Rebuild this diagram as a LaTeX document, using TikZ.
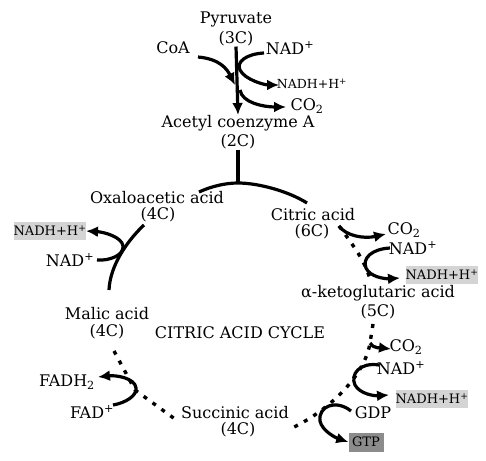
\documentclass[tikz,border=0pt]{standalone}
\usepackage{fontspec}
\setmainfont{DejaVu Serif}
\usetikzlibrary{arrows.meta,positioning}
\begin{document}
\begin{tikzpicture}[x=1pt,y=-1pt,
    lbl/.style={inner sep=0pt,font=\fontsize{16}{17}\selectfont},
    shade/.style={inner sep=0pt,minimum width=71pt,minimum height=18pt,fill=black!17,font=\fontsize{13}{14}\selectfont},
    flow/.style={line width=3.2pt,-{Latex[length=12pt,width=11pt]}},
    cycleline/.style={line width=3.2pt},
    gapline/.style={line width=3.4pt,dash pattern=on 4pt off 7pt}]
    \useasboundingbox (0,0) rectangle (486,460);
    \node[lbl] (pyr) at (236,19) {Pyruvate};
    \node[lbl] (pyrc) at (236,39) {(3C)};
    \node[lbl] (coa) at (173,48) {CoA};
    \node[lbl] (nad1) at (290,48) {NAD\textsuperscript{+}};
    \node[lbl,font=\fontsize{12.5}{13}\selectfont] (nadh1) at (312,84) {NADH+H\textsuperscript{+}};
    \node[lbl] (co2a) at (307,106) {CO\textsubscript{2}};
    \node[lbl] (acoa) at (238,123) {Acetyl coenzyme A};
    \node[lbl] (acoac) at (238,142) {(2C)};
    \node[lbl] (oxa) at (157,198) {Oxaloacetic acid};
    \node[lbl] (oxac) at (158,215) {(4C)};
    \node[lbl] (cit) at (313,215) {Citric acid};
    \node[lbl] (citc) at (312,232) {(6C)};
    \node[lbl] (co2b) at (404,230) {CO\textsubscript{2}};
    \node[lbl] (nad2) at (413,248) {NAD\textsuperscript{+}};
    \node[shade] (nadh2) at (442,275) {NADH+H\textsuperscript{+}};
    \node[lbl] (akg) at (378,293) {α-ketoglutaric acid};
    \node[lbl] (akgc) at (378,312) {(5C)};
    \node[shade] (nadh4) at (50,231) {NADH+H\textsuperscript{+}};
    \node[lbl] (nad4) at (70,260) {NAD\textsuperscript{+}};
    \node[lbl] (mal) at (107,314) {Malic acid};
    \node[lbl] (malc) at (107,332) {(4C)};
    \node[lbl] (cyc) at (240,333) {CITRIC ACID CYCLE};
    \node[lbl] (co2c) at (406,347) {CO\textsubscript{2}};
    \node[lbl] (nad3) at (401,368) {NAD\textsuperscript{+}};
    \node[shade] (nadh3) at (432,399) {NADH+H\textsuperscript{+}};
    \node[lbl] (fadh) at (67,382) {FADH\textsubscript{2}};
    \node[lbl] (fad) at (92,412) {FAD\textsuperscript{+}};
    \node[lbl] (succ) at (235,413) {Succinic acid};
    \node[lbl] (succc) at (238,430) {(4C)};
    \node[lbl] (gdp) at (373,413) {GDP};
    \node[shade,fill=black!45,minimum width=35pt,minimum height=19pt] (gtp) at (366,442) {GTP};
    \coordinate (jn) at (238,183);
    \coordinate (coaS) at (198,57);
    \coordinate (coaE) at (235,85);
    \coordinate (nadA) at (264,53);
    \coordinate (nadB) at (240,70);
    \coordinate (nadC) at (279,85);
    \coordinate (coS) at (240,90);
    \coordinate (coE) at (286,107);
    \coordinate (oxaE) at (199,192);
    \coordinate (citE) at (307,203);
    \coordinate (oxaS) at (144,225);
    \coordinate (malE) at (109,290);
    \coordinate (n4A) at (97,260);
    \coordinate (n4B) at (123,246);
    \coordinate (n4C) at (86,231);
    \coordinate (malS) at (114,351);
    \coordinate (fadJ) at (135,390);
    \coordinate (sucE) at (179,422);
    \coordinate (fadA) at (113,405);
    \coordinate (fadB) at (136,388);
    \coordinate (fadC) at (98,377);
    \coordinate (sucS) at (292,428);
    \coordinate (kgB) at (370,343);
    \coordinate (kgT) at (373,324);
    \coordinate (co2cE) at (391,349);
    \coordinate (n3A) at (379,365);
    \coordinate (n3B) at (355,385);
    \coordinate (n3C) at (389,395);
    \coordinate (gdA) at (351,411);
    \coordinate (gdB) at (320,421);
    \coordinate (co2bS) at (339,226);
    \coordinate (co2bE) at (386,234);
    \coordinate (akgT) at (371,283);
    \coordinate (n2A) at (390,248);
    \coordinate (n2B) at (366,268);
    \coordinate (n2C) at (400,278);
    \draw[flow] (pyrc.south) -- (acoa.north);
    \draw[flow] (coaS) .. controls +(22,2) and +(-8,-16) .. (coaE);
    \draw[flow] (nadA) .. controls +(-18,1) and +(-4,-8) .. (nadB) .. controls +(5,10) and +(-14,0) .. (nadC);
    \draw[flow] (coS) .. controls +(2,13) and +(-22,0) .. (coE);
    \draw[cycleline] (acoac.south) -- (jn);
    \draw[cycleline] (oxaE) .. controls (212,186) and (226,183) .. (jn) .. controls (258,183) and (288,191) .. (citE);
    \draw[cycleline] (oxaS) .. controls (128,240) and (110,265) .. (malE);
    \draw[flow] (n4A) .. controls +(13,1) and +(1,9) .. (n4B) .. controls +(-1,-9) and +(18,1) .. (n4C);
    \draw[gapline] (malS) -- (fadJ) -- (sucE);
    \draw[flow] (fadA) .. controls +(12,-2) and +(1,8) .. (fadB) .. controls +(-1,-10) and +(18,-2) .. (fadC);
    \draw[gapline] (kgT) -- (kgB) .. controls (365,375) and (330,410) .. (sucS);
    \draw[flow] (kgB) .. controls +(3,6) and +(-8,-1) .. (co2cE);
    \draw[flow] (n3A) .. controls +(-19,-3) and +(-5,-11) .. (n3B) .. controls +(5,9) and +(-15,1) .. (n3C);
    \draw[flow] (gdA) .. controls +(-15,-12) and +(-2,-15) .. (gdB) .. controls +(2,10) and +(-12,-4) .. (gtp.west);
    \draw[gapline] (co2bS) .. controls (355,248) and (366,262) .. (akgT);
    \draw[flow] (co2bS) .. controls +(7,10) and +(-22,5) .. (co2bE);
    \draw[flow] (n2A) .. controls +(-18,1) and +(-4,-10) .. (n2B) .. controls +(4,9) and +(-15,1) .. (n2C);
\end{tikzpicture}
\end{document}
